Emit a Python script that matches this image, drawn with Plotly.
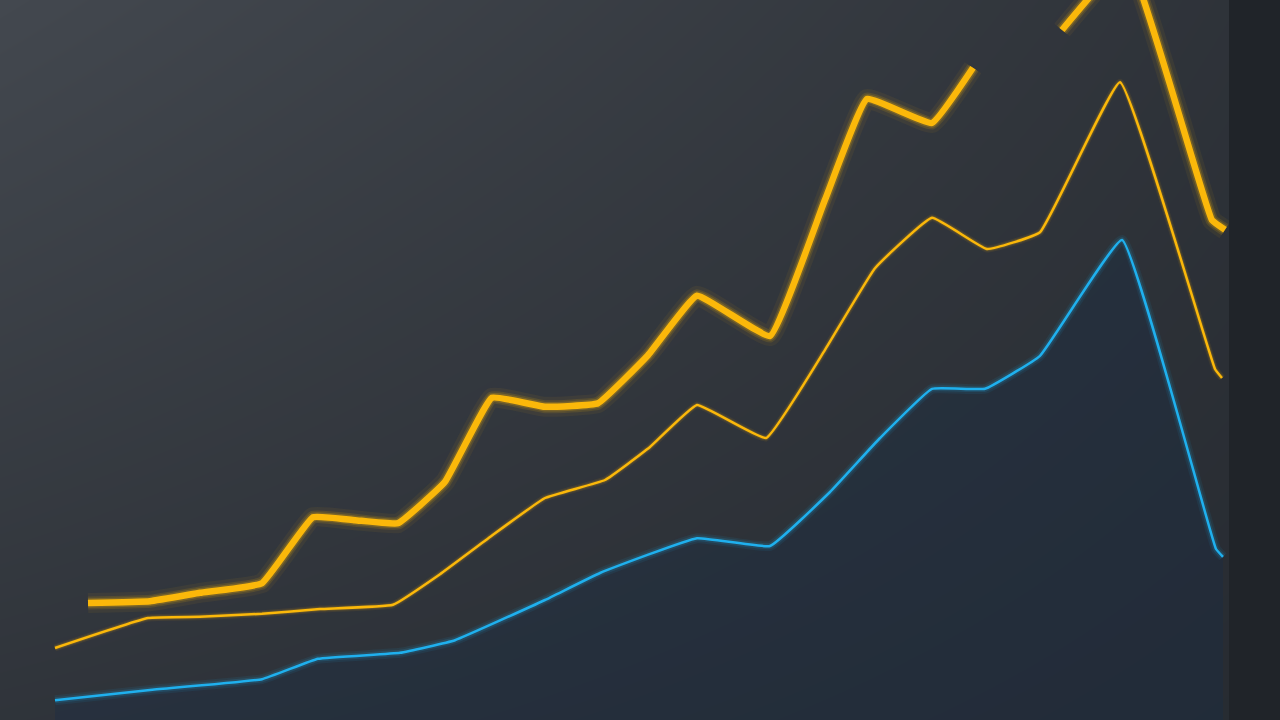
import plotly.graph_objects as go

# ---- data ----
x_main = [8.8, 15.0, 20.0, 26.2, 31.3, 35.5, 39.8, 44.5, 49.2, 54.5, 59.8, 64.8, 69.7,
          77.0, 82.5, 86.7, 93.2, 97.3, 101.8, 106.2, 112.7, 121.2, 122.5]
y_main = [19.5, 19.8, 21.2, 22.8, 33.8, 33.3, 32.8, 39.7, 53.7, 52.2, 52.8, 60.8, 70.7,
          64.0, 86.7, 103.5, 99.5, 108.7, None, 115.0, 126.7, 83.3, 81.7]

x_mid = [5.5, 14.8, 20.0, 26.2, 32.0, 39.3, 44.0, 49.0, 54.5, 60.5, 65.0, 69.7, 76.6,
         82.5, 87.5, 93.2, 98.7, 104.0, 112.0, 121.5, 122.2]
y_mid = [12.0, 17.0, 17.2, 17.7, 18.5, 19.2, 24.3, 30.5, 37.0, 40.0, 45.5, 52.5, 47.0,
         61.7, 75.3, 83.7, 78.5, 81.3, 106.3, 58.5, 57.0]

x_low = [5.5, 15.0, 26.2, 31.8, 40.0, 45.5, 54.5, 60.0, 69.7, 77.0, 83.0, 88.0, 93.2,
         98.5, 104.0, 112.2, 121.6, 122.3]
y_low = [3.3, 5.0, 6.8, 10.2, 11.2, 13.3, 20.0, 24.5, 30.3, 29.0, 38.0, 47.0, 55.2,
         55.2, 60.7, 80.0, 28.5, 27.2]

YEL = "#fbb80a"
BLU = "#1fb0ee"

fig = go.Figure()

# background gradient
fig.add_trace(go.Heatmap(
    x=[0, 128], y=[0, 120], z=[[0.45, 0.22], [1.0, 0.4]],
    zsmooth="best", showscale=False, hoverinfo="skip",
    colorscale=[[0, "#1f2329"], [1, "#43484f"]], zmin=0, zmax=1))

# area under blue line
fig.add_trace(go.Scatter(x=x_low, y=y_low, mode="lines", fill="tozeroy",
                         fillcolor="rgba(24,44,70,0.36)",
                         line=dict(color="rgba(0,0,0,0)", width=0, shape="spline", smoothing=0.3),
                         hoverinfo="skip", showlegend=False))

def glow_line(x, y, color_rgb, widths_alphas, core_color, core_width):
    for w, a in widths_alphas:
        fig.add_trace(go.Scatter(x=x, y=y, mode="lines",
                                 line=dict(color=f"rgba({color_rgb},{a})", width=w,
                                           shape="spline", smoothing=0.3),
                                 hoverinfo="skip", showlegend=False, connectgaps=False))
    fig.add_trace(go.Scatter(x=x, y=y, mode="lines",
                             line=dict(color=core_color, width=core_width,
                                       shape="spline", smoothing=0.3),
                             showlegend=False, connectgaps=False))

glow_line(x_low, y_low, "31,176,238", [(10, 0.08), (6, 0.15)], BLU, 2.5)
glow_line(x_mid, y_mid, "251,184,10", [(7, 0.08), (4.5, 0.15)], YEL, 2.5)
glow_line(x_main, y_main, "251,184,10", [(20, 0.06), (13, 0.13), (9.5, 0.22)], YEL, 6.5)

fig.update_layout(
    width=1280, height=720,
    margin=dict(l=0, r=0, t=0, b=0),
    paper_bgcolor="#2e3238", plot_bgcolor="#2e3238",
    xaxis=dict(range=[0, 128], visible=False, fixedrange=True),
    yaxis=dict(range=[0, 120], visible=False, fixedrange=True),
    showlegend=False,
    shapes=[dict(type="rect", xref="x", yref="paper", x0=122.9, x1=128, y0=0, y1=1,
                 fillcolor="#202429", line=dict(width=0), layer="above")],
)

fig.write_html("out.html", config={"displayModeBar": False, "staticPlot": True},
               post_script="document.body.style.margin='0';document.body.style.overflow='hidden';")
